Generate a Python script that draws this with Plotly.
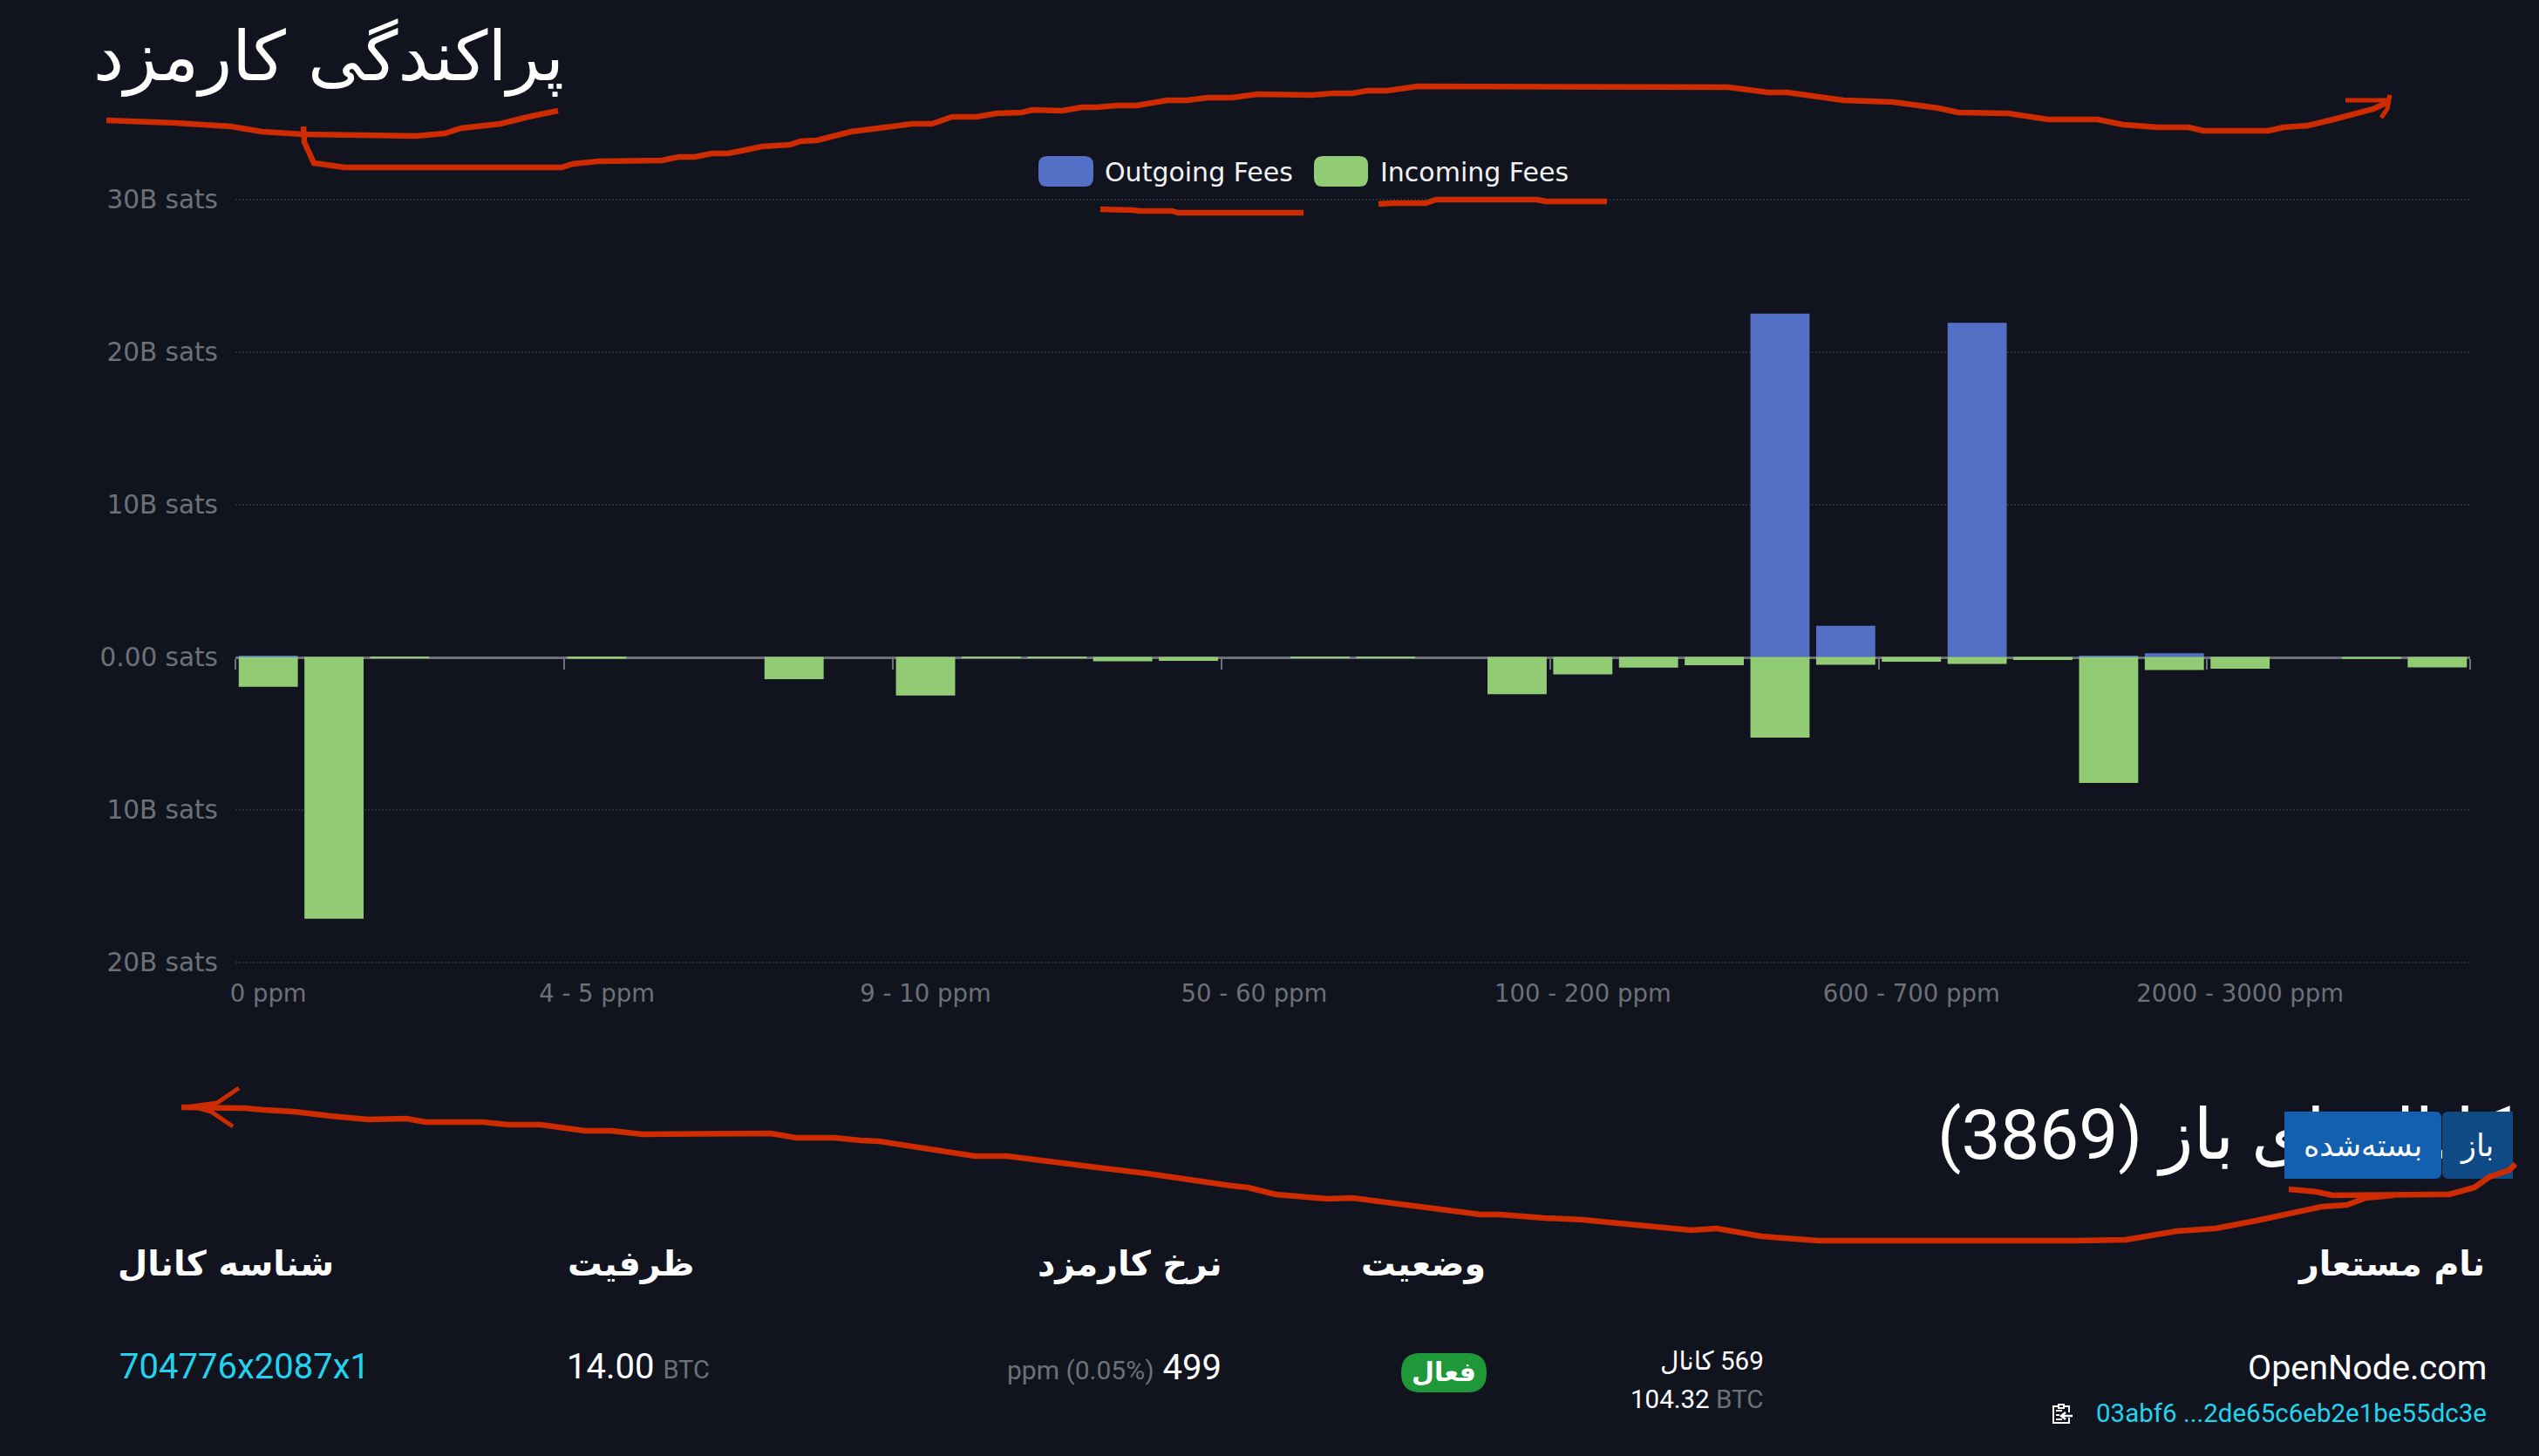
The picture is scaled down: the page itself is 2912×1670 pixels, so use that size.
import plotly.graph_objects as go

W, H = 2912, 1670
BG = '#11141f'
GREY = '#6e7079'
CYAN = '#22d3ee'
RED = '#cf2b00'
BLUE = '#5470c6'
GREEN = '#91cc75'
AR = 'DejaVu Sans'
RB = 'Roboto, DejaVu Sans'

categories = [
    '0 ppm', '0 - 1 ppm', '1 - 2 ppm', '2 - 3 ppm', '3 - 4 ppm', '4 - 5 ppm', '5 - 6 ppm', '6 - 7 ppm',
    '7 - 8 ppm', '8 - 9 ppm', '9 - 10 ppm', '10 - 20 ppm', '20 - 30 ppm', '30 - 40 ppm', '40 - 50 ppm',
    '50 - 60 ppm', '60 - 70 ppm', '70 - 80 ppm', '80 - 90 ppm', '90 - 100 ppm', '100 - 200 ppm',
    '200 - 300 ppm', '300 - 400 ppm', '400 - 500 ppm', '500 - 600 ppm', '600 - 700 ppm', '700 - 800 ppm',
    '800 - 900 ppm', '900 - 1000 ppm', '1000 - 2000 ppm', '2000 - 3000 ppm', '3000 - 4000 ppm',
    '4000 - 5000 ppm', '5000+ ppm',
]
# billions of sats
outgoing = [
    0.04, 0, 0, 0, 0, 0, 0, 0, 0, 0, 0, 0, 0, 0, 0, 0, 0, 0, 0, 0, 0, 0, 0,
    22.5, 2.05, 0, 21.9, 0, 0.07, 0.25, 0, 0, 0, 0,
]
incoming = [
    -1.96, -17.15, -0.06, 0, 0, -0.11, 0, 0, -1.45, 0, -2.53, -0.08, -0.08, -0.29, -0.25, 0, -0.06, -0.06,
    0, -2.44, -1.14, -0.70, -0.54, -5.28, -0.52, -0.31, -0.45, -0.20, -8.25, -0.86, -0.77, 0, -0.13, -0.68,
]
x_labels = ['0 ppm', '4 - 5 ppm', '9 - 10 ppm', '50 - 60 ppm', '100 - 200 ppm', '600 - 700 ppm', '2000 - 3000 ppm']
x_edges = [-0.5, 4.5, 9.5, 14.5, 19.5, 24.5, 29.5, 33.5]
y_ticks = [30, 20, 10, 0, -10, -20]
y_labels = ['30B sats', '20B sats', '10B sats', '0.00 sats', '10B sats', '20B sats']

# hand drawn red marks, page pixels
scribble_title = [(122, 138), (201, 141), (265, 145), (300, 151), (348, 154), (478, 156), (510, 153), (529, 147),
                  (574, 142), (606, 134), (640, 127)]
scribble_top = [(348, 145), (349, 163), (360, 187), (395, 192), (644, 192), (657, 188), (686, 185), (759, 184),
                (778, 180), (797, 180), (816, 176), (835, 176), (855, 172), (874, 168), (906, 166), (918, 162),
                (937, 161), (976, 151), (1000, 148), (1046, 142), (1069, 142), (1092, 134), (1120, 134), (1143, 130),
                (1172, 129), (1184, 126), (1218, 127), (1241, 123), (1258, 123), (1281, 121), (1304, 121), (1339, 115),
                (1362, 115), (1385, 112), (1413, 112), (1442, 108), (1505, 109), (1528, 107), (1551, 107), (1568, 104),
                (1591, 104), (1626, 99), (1982, 100), (2005, 103), (2028, 106), (2050, 106), (2114, 115), (2171, 117),
                (2223, 124), (2246, 129), (2303, 130), (2349, 137), (2406, 137), (2435, 143), (2475, 146), (2510, 146),
                (2527, 150), (2602, 150), (2619, 146), (2647, 144), (2676, 137), (2722, 125), (2739, 117)]
scribble_top_head = [(2690, 115), (2739, 115), (2741, 109), (2738, 125), (2731, 135)]
scribble_out = [(1262, 240), (1300, 241), (1307, 242), (1344, 242), (1351, 244), (1495, 244)]
scribble_in = [(1581, 234), (1596, 233), (1635, 233), (1647, 229), (1763, 229), (1773, 231), (1843, 231)]
scribble_low = [(208, 1270), (281, 1271), (302, 1273), (337, 1275), (379, 1280), (422, 1284), (466, 1283), (488, 1287),
                (554, 1287), (583, 1290), (620, 1290), (671, 1297), (701, 1297), (737, 1301), (884, 1300), (913, 1305),
                (957, 1305), (987, 1308), (1008, 1309), (1118, 1326), (1155, 1326), (1250, 1338), (1316, 1346),
                (1412, 1360), (1431, 1362), (1463, 1370), (1522, 1375), (1551, 1374), (1698, 1393), (1720, 1393),
                (1771, 1397), (1815, 1399), (1866, 1404), (1940, 1411), (1969, 1409), (2020, 1418), (2086, 1423),
                (2380, 1423), (2438, 1422), (2497, 1412), (2541, 1409), (2588, 1400), (2663, 1384), (2692, 1382),
                (2713, 1374), (2745, 1371)]
scribble_low_head1 = [(274, 1248), (249, 1265), (212, 1270)]
scribble_low_head2 = [(267, 1292), (242, 1275), (225, 1270)]
scribble_btn = [(2625, 1364), (2657, 1367), (2675, 1371), (2809, 1370), (2838, 1362), (2855, 1350), (2878, 1342),
                (2885, 1335)]


def line_path(points):
    return 'M' + ' L'.join(f'{x},{y}' for x, y in points)


def round_rect(x0, y0, x1, y1, tl=0, tr=0, br=0, bl=0):
    return (f'M{x0 + tl},{y0} L{x1 - tr},{y0} Q{x1},{y0} {x1},{y0 + tr} L{x1},{y1 - br} Q{x1},{y1} {x1 - br},{y1} '
            f'L{x0 + bl},{y1} Q{x0},{y1} {x0},{y1 - bl} L{x0},{y0 + tl} Q{x0},{y0} {x0 + tl},{y0} Z')


def stroke(points, width=6.5):
    return dict(type='path', xref='x3', yref='y3', layer='above', path=line_path(points),
                line=dict(color=RED, width=width))


def box(path, color):
    return dict(type='path', xref='x3', yref='y3', layer='above', path=path, fillcolor=color, line_width=0)


def icon(path, width=2):
    return dict(type='path', xref='x3', yref='y3', layer='above', path=path, line=dict(color='white', width=width))


def note(x, y, text, size, color='white', family=RB, anchor='right'):
    return dict(x=x, y=y, xref='x3', yref='y3', text=text, showarrow=False, xanchor=anchor, yanchor='middle',
                font=dict(size=size, color=color, family=family))


fig = go.Figure()
fig.add_bar(x=categories, y=outgoing, name='Outgoing Fees', marker_color=BLUE, marker_line_width=0)
fig.add_bar(x=categories, y=incoming, name='Incoming Fees', marker_color=GREEN, marker_line_width=0)
# keeps the zero crossing axis alive, it has no bars of its own
fig.add_scatter(x=x_edges, y=[0] * len(x_edges), xaxis='x2', yaxis='y', mode='lines', opacity=0, hoverinfo='skip')
# heading is a trace so that the buttons (shapes) can sit on top of it
fig.add_scatter(x=[2222], y=[1309], xaxis='x3', yaxis='y3', mode='text', textposition='middle right',
                text=['کانال‌های باز (3869)\u200f'], textfont=dict(size=80, color='white', family=RB),
                hoverinfo='skip', cliponaxis=False)

# overshoot of the range so the first and last gridlines are kept
y_range = [-20.2, 30.2]
px_per_b = 17.5
zero_y = 753.5
y_dom = [1 - (zero_y - y_range[0] * px_per_b) / H, 1 - (zero_y - y_range[1] * px_per_b) / H]
zero_pos = 1 - zero_y / H

shapes = [stroke(s) for s in [scribble_title, scribble_top, scribble_out, scribble_in, scribble_low]]
shapes += [stroke(s, 5) for s in [scribble_top_head, scribble_low_head1, scribble_low_head2]]
shapes += [
    box(round_rect(1191, 179, 1254, 214, 10, 10, 10, 10), BLUE),
    box(round_rect(1507, 179, 1569, 214, 10, 10, 10, 10), GREEN),
    box(round_rect(2620, 1275, 2800, 1352, 0, 7, 7, 0), '#1260af'),
    box(round_rect(2801, 1275, 2882, 1352, 7, 0, 0, 7), '#0f4a85'),
    box(round_rect(1607, 1552, 1705, 1597, 22, 22, 22, 22), '#1e9838'),
    stroke(scribble_btn),
    icon('M2361,1613 H2355 V1632 H2373 V1626'),
    icon('M2373,1620 V1613 H2367 M2361,1615 V1611 H2367 V1615 Z'),
    icon('M2358,1618 H2365 M2358,1623 H2362 M2358,1628 H2365'),
    icon('M2377,1624 H2365 M2369,1620 L2364,1624 L2369,1628', 2.5),
]

fee_label = f'<span style="font-size:30px;color:{GREY}">ppm (0.05%)</span> 499'
cap_label = f'14.00 <span style="font-size:29px;color:{GREY}">BTC</span>'
node_label = f'104.32 <span style="color:{GREY}">BTC</span>'

annotations = [
    note(649, 65, 'پراکندگی کارمزد', 79, family=AR),
    note(1265, 197, 'Outgoing Fees', 30, '#f2f2f2', AR, 'left'),
    note(1581, 197, 'Incoming Fees', 30, '#f2f2f2', AR, 'left'),
    note(2710, 1314, 'بسته‌شده', 35, family=AR, anchor='center'),
    note(2840, 1314, 'باز', 35, family=AR, anchor='center'),
    note(2852, 1449, '<b>نام مستعار</b>', 39.5, family=AR),
    note(1706, 1449, '<b>وضعیت</b>', 39.5, family=AR),
    note(1403, 1449, '<b>نرخ کارمزد</b>', 39.5, family=AR),
    note(799, 1449, '<b>ظرفیت</b>', 39.5, family=AR),
    note(385, 1449, '<b>شناسه کانال</b>', 39.5, family=AR),
    note(135, 1567, '704776x2087x1', 40, CYAN, anchor='left'),
    note(648, 1567, cap_label, 40, anchor='left'),
    note(1403, 1568, fee_label, 40),
    note(1656, 1573, '<b>فعال</b>', 30, family=AR, anchor='center'),
    note(2025, 1561, '\u200f569 کانال', 29.5),
    note(2024, 1605, node_label, 29.5),
    note(2854, 1568, 'OpenNode.com', 39.5),
    note(2854, 1621, '03abf6 ...2de65c6eb2e1be55dc3e', 29.5, CYAN),
]

fig.update_layout(
    template='none',
    width=W,
    height=H,
    margin=dict(l=0, r=0, t=0, b=0),
    autosize=False,
    paper_bgcolor=BG,
    plot_bgcolor='rgba(0,0,0,0)',
    barmode='relative',
    bargap=0.1,
    showlegend=False,
    hovermode=False,
    shapes=shapes,
    annotations=annotations,
    xaxis=dict(
        domain=[270 / W, 2833 / W],
        type='category',
        categoryorder='array',
        categoryarray=categories,
        range=[-0.5, 33.5],
        tickmode='array',
        tickvals=x_labels,
        ticktext=x_labels,
        tickfont=dict(size=27.5, color=GREY, family=AR),
        ticks='',
        ticklabelstandoff=13,
        showgrid=False,
        zeroline=False,
        showline=False,
    ),
    # axis line and ticks that cross at zero
    xaxis2=dict(
        overlaying='x',
        anchor='free',
        position=zero_pos,
        side='bottom',
        range=[-0.5, 33.5],
        tickmode='array',
        tickvals=x_edges,
        showticklabels=False,
        ticks='outside',
        ticklen=12,
        tickwidth=2,
        tickcolor=GREY,
        showline=True,
        linecolor=GREY,
        linewidth=3,
        showgrid=False,
        zeroline=False,
        layer='below traces',
    ),
    yaxis=dict(
        domain=y_dom,
        range=y_range,
        tickmode='array',
        tickvals=y_ticks,
        ticktext=y_labels,
        tickfont=dict(size=29.5, color=GREY, family=AR),
        ticks='',
        ticklabelstandoff=19,
        showgrid=True,
        gridcolor='#2b2e38',
        gridwidth=2,
        griddash='2px,2px',
        zeroline=False,
        showline=False,
    ),
    xaxis3=dict(domain=[0, 1], anchor='y3', range=[0, W], visible=False, fixedrange=True),
    yaxis3=dict(domain=[0, 1], anchor='x3', range=[H, 0], visible=False, fixedrange=True),
)

fig.write_html(
    'out.html',
    config=dict(displayModeBar=False),
    post_script=f"document.body.style.margin='0';document.body.style.background='{BG}';",
)
